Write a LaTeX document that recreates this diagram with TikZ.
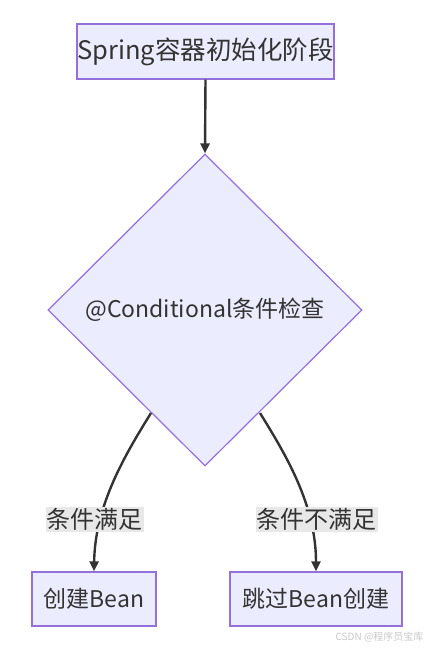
\documentclass[tikz,border=0pt]{standalone}
\usepackage{fontspec}
\setmainfont{Noto Sans CJK SC}
\usetikzlibrary{arrows.meta,shapes.geometric}
\definecolor{boxfill}{HTML}{ECECFF}
\definecolor{boxdraw}{HTML}{9370DB}
\definecolor{ink}{HTML}{333333}
\definecolor{lblbg}{HTML}{E8E8E8}
\definecolor{wm}{HTML}{C8C8C8}
\tikzset{
  procbox/.style={draw=boxdraw, fill=boxfill, line width=1.4pt, rectangle, inner sep=0pt, text=ink, font=\fontsize{23}{27}\selectfont},
  decbox/.style={draw=boxdraw, fill=boxfill, line width=1.2pt, diamond, inner sep=0pt, text=ink, font=\fontsize{23}{27}\selectfont},
  flow/.style={draw=ink, line width=2.4pt, -{Triangle[length=10pt,width=9pt]}},
  edgelbl/.style={fill=lblbg, inner sep=1pt, text=ink, font=\fontsize{24}{28}\selectfont},
}
\begin{document}
\begin{tikzpicture}[x=1pt,y=-1pt]
\useasboundingbox (0,0) rectangle (431,649);
\node[procbox, minimum width=257pt, minimum height=55pt, font=\fontsize{25.5}{30}\selectfont] (init) at (205.5,51.5) {Spring容器初始化阶段};
\node[decbox, minimum width=314pt, minimum height=312pt] (cond) at (205,310) {@Conditional条件检查};
\node[procbox, minimum width=124pt, minimum height=54pt] (create) at (94,599) {创建Bean};
\node[procbox, minimum width=172pt, minimum height=54pt] (skip) at (316,599) {跳过Bean创建};
\coordinate (cl) at (151,413);
\coordinate (cr) at (260,413);
\draw[flow] (init.south) -- (cond.north);
\draw[flow] (cl) .. controls (125,455) and (95,505) .. (create.north);
\draw[flow] (cr) .. controls (286,455) and (316,505) .. (skip.north);
\node[edgelbl] (yes) at (94.5,519.5) {条件满足};
\node[edgelbl] (no) at (316.5,519.5) {条件不满足};
\node[text=wm, font=\fontsize{10}{12}\selectfont, anchor=east] (mark) at (427,637) {CSDN @程序员宝库};
\end{tikzpicture}
\end{document}
